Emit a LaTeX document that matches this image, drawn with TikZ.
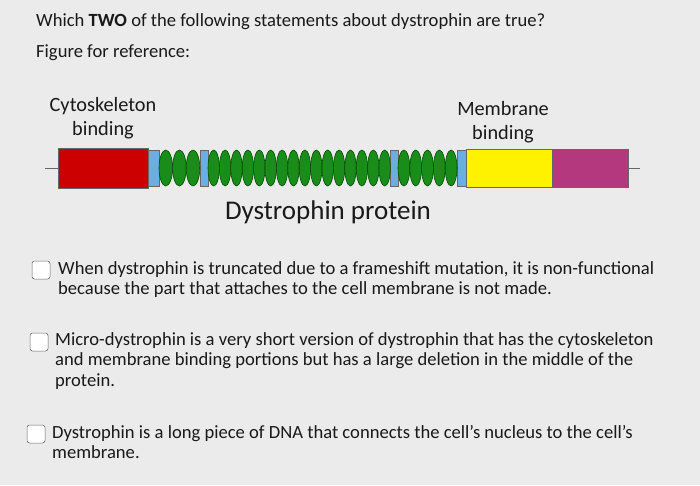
\documentclass[tikz,border=0pt]{standalone}
\usepackage{fontspec}
\setmainfont{Carlito}
\begin{document}
\begin{tikzpicture}[x=1pt,y=-1pt,
  txt/.style={anchor=west,inner sep=0,font=\fontsize{18.6}{20.5}\selectfont,text=black!90},
  lab/.style={align=center,inner sep=0,font=\fontsize{20.3}{24}\selectfont,text=black!90},
  ell/.style={draw=black!70!green,fill=green!50!black!90,line width=0.6pt},
  bl/.style={draw=black!60,fill=cyan!70!blue!60,line width=0.5pt},
  box/.style={draw=black!60,line width=0.5pt,rounded corners=2.5pt,fill=white}]
\fill[black!8] (0,0) rectangle (700,485);
\useasboundingbox (0,0) rectangle (700,485);
\node[txt] (t1) at (36,22) {Which \textbf{TWO} of the following statements about dystrophin are true?};
\node[txt] (t2) at (36,53) {Figure for reference:};
\node[lab] (cyto) at (103,118) {Cytoskeleton\\binding};
\node[lab] (mem) at (503,122) {Membrane\\binding};
\coordinate (L) at (45,168); \coordinate (R) at (640,168);
\draw[black!60] (L) -- (R);
\node[draw=black!60,fill=red!80!black,minimum width=90pt,minimum height=40pt,anchor=west,inner sep=0] (red) at (58,168) {};
\foreach \a/\b in {148/159,200/208,390/398,457/466}
  \draw[bl] (\a,150) rectangle (\b,186);
\foreach \i in {0,1,2} \draw[ell] (159+6.8+\i*13.6,168) ellipse (6.8 and 18);
\foreach \i in {0,...,15} \draw[ell] (208+5.7+\i*11.4,168) ellipse (5.7 and 18);
\foreach \i in {0,...,4} \draw[ell] (398+5.9+\i*11.8,168) ellipse (5.9 and 18);
\node[draw=black!60,fill=yellow,minimum width=86pt,minimum height=38pt,anchor=west,inner sep=0] (yel) at (466,168) {};
\node[draw=black!60,fill=magenta!70!black,minimum width=76pt,minimum height=38pt,anchor=west,inner sep=0] (mag) at (552,168) {};
\node[lab,font=\fontsize{27}{30}\selectfont] (dp) at (328,212) {Dystrophin protein};
\node[box,minimum size=18pt] (c1) at (41,270) {};
\node[txt,align=left,anchor=north west] (a1) at (58,261) {When dystrophin is truncated due to a frameshift mutation, it is non-functional\\because the part that attaches to the cell membrane is not made.};
\node[box,minimum size=18pt] (c2) at (39,342) {};
\node[txt,align=left,anchor=north west] (a2) at (55,332) {Micro-dystrophin is a very short version of dystrophin that has the cytoskeleton\\and membrane binding portions but has a large deletion in the middle of the\\protein.};
\node[box,minimum size=18pt] (c3) at (36,434) {};
\node[txt,align=left,anchor=north west] (a3) at (52,425) {Dystrophin is a long piece of DNA that connects the cell's nucleus to the cell's\\membrane.};
\end{tikzpicture}
\end{document}
